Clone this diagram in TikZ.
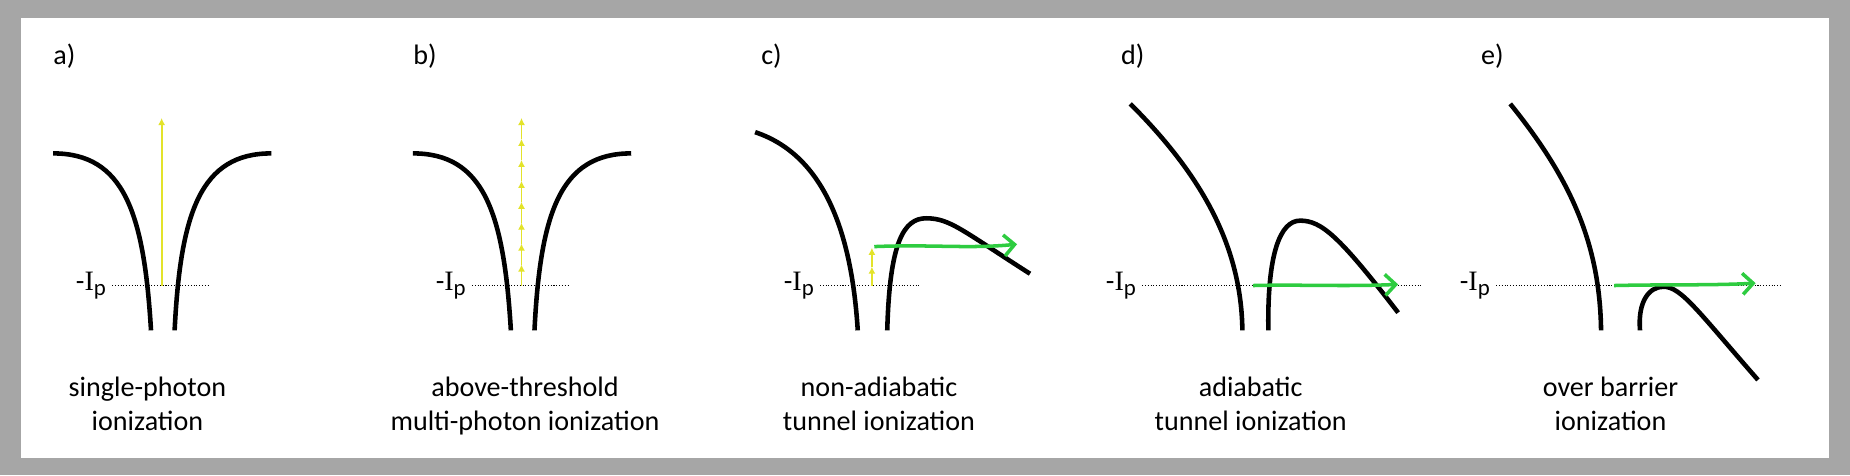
\documentclass[tikz,border=0pt]{standalone}
\usepackage{fontspec}
\setmainfont{Carlito}
\newfontfamily\ipfont{Liberation Serif}
\usetikzlibrary{arrows.meta}
\definecolor{bggray}{HTML}{A6A6A6}
\definecolor{phot}{HTML}{E3E32A}
\definecolor{grn}{HTML}{2ECC40}
\newcommand{\ipl}{-{\ipfont I}\raisebox{-0.35ex}{\fontsize{13}{13}\selectfont p}}
\begin{document}
\begin{tikzpicture}[x=0.0236cm,y=-0.0236cm,
  pot/.style={line width=2.6pt},
  lvl/.style={densely dotted,line width=0.6pt},
  photon/.style={phot,line width=1pt,-{Latex[length=4pt,width=4pt]}},
  tun/.style={grn,line width=2pt,-{Straight Barb[length=6pt,width=12pt,line width=2pt]}},
  lab/.style={font=\fontsize{16}{19}\selectfont,anchor=west},
  iplab/.style={font=\fontsize{16}{19}\selectfont,anchor=east,inner sep=2pt},
  captxt/.style={font=\fontsize{16}{19.5}\selectfont,align=center,anchor=north}]
\fill[bggray] (0,0) rectangle (1568,403);
\fill[white] (18,15) rectangle (1550,388);
\useasboundingbox (0,0) rectangle (1568,403);
% a
\node[lab] (la) at (40,48) {a)};
\draw[pot] (45,130) .. controls (105,130) and (122,180) .. (128,280);
\draw[pot] (230,130) .. controls (170,130) and (153,180) .. (148,280);
\draw[lvl] (95,242) coordinate (a0) -- (178,242) coordinate (a1);
\node[iplab] (ipa) at (93,242) {\ipl};
\coordinate (ya0) at (137,242); \coordinate (ya1) at (137,100);
\draw[photon] (ya0) -- (ya1);
\node[captxt] (ca) at (125,314) {single-photon\\ionization};
% b
\node[lab] (lb) at (345,48) {b)};
\draw[pot] (350,130) .. controls (410,130) and (427,180) .. (433,280);
\draw[pot] (535,130) .. controls (475,130) and (458,180) .. (453,280);
\draw[lvl] (400,242) -- (483,242);
\node[iplab] (ipb) at (398,242) {\ipl};
\foreach \i in {0,...,7}{
  \draw[photon] (442,{242-\i*17.75}) -- (442,{242-(\i+1)*17.75});}
\node[captxt] (cb) at (445,314) {above-threshold\\multi-photon ionization};
% c
\node[lab] (lc) at (640,48) {c)};
\draw[pot] (640,112) .. controls (700,132) and (722,200) .. (727,280);
\draw[pot] (752,280) .. controls (754,205) and (766,185) .. (785,185) .. controls (805,185) and (815,195) .. (873,232);
\draw[lvl] (695,242) -- (780,242);
\node[iplab] (ipc) at (693,242) {\ipl};
\draw[photon] (739,242) -- (739,226);
\draw[photon] (739,226) -- (739,210);
\coordinate (g0) at (741,209); \coordinate (g1) at (862,207);
\draw[tun] (g0) .. controls (790,207) and (820,211) .. (g1);
\node[captxt] (cc) at (745,314) {non-adiabatic\\tunnel ionization};
% d
\node[lab] (ld) at (945,48) {d)};
\draw[pot] (958,88) .. controls (1015,145) and (1052,205) .. (1053,280);
\draw[pot] (1075,280) .. controls (1074,215) and (1085,187) .. (1102,187) .. controls (1120,187) and (1135,200) .. (1185,265);
\draw[lvl] (968,242) -- (1205,242);
\node[iplab] (ipd) at (966,242) {\ipl};
\coordinate (h0) at (1062,242); \coordinate (h1) at (1185,241);
\draw[tun] (h0) .. controls (1100,241) and (1140,243) .. (h1);
\node[captxt] (cd) at (1060,314) {adiabatic\\tunnel ionization};
% e
\node[lab] (le) at (1250,48) {e)};
\draw[pot] (1280,88) .. controls (1330,150) and (1356,205) .. (1357,280);
\draw[pot] (1390,280) .. controls (1388,255) and (1398,243) .. (1410,243) .. controls (1425,243) and (1440,265) .. (1490,322);
\draw[lvl] (1268,242) -- (1510,242);
\node[iplab] (ipe) at (1266,242) {\ipl};
\coordinate (k0) at (1368,242); \coordinate (k1) at (1488,240);
\draw[tun] (k0) .. controls (1410,241) and (1450,242) .. (k1);
\node[captxt] (ce) at (1365,314) {over barrier\\ionization};
\end{tikzpicture}
\end{document}
